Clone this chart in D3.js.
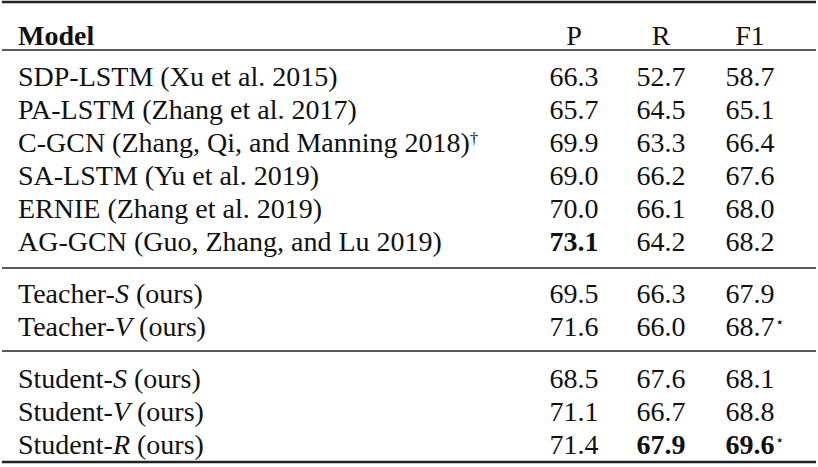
<!DOCTYPE html><html><head><meta charset="utf-8"><script src="https://cdn.jsdelivr.net/npm/d3@7"></script>
<style>body{margin:0;background:#fff}</style></head><body><svg width="818" height="467" font-family="'Liberation Serif', 'DejaVu Serif', serif" font-size="28" fill="#111"></svg>
<script>
const headers=["Model","P","R","F1"];
const models=[["SDP-LSTM (Xu et al. 2015)"],["PA-LSTM (Zhang et al. 2017)"],["C-GCN (Zhang, Qi, and Manning 2018)","†"],["SA-LSTM (Yu et al. 2019)"],["ERNIE (Zhang et al. 2019)"],["AG-GCN (Guo, Zhang, and Lu 2019)"],
["Teacher-","S"," (ours)"],["Teacher-","V"," (ours)"],["Student-","S"," (ours)"],["Student-","V"," (ours)"],["Student-","R"," (ours)"]];
const P=["66.3","65.7","69.9","69.0","70.0","73.1","69.5","71.6","68.5","71.1","71.4"];
const R=["52.7","64.5","63.3","66.2","66.1","64.2","66.3","66.0","67.6","66.7","67.9"];
const F1=["58.7","65.1","66.4","67.6","68.0","68.2","67.9","68.7","68.1","68.8","69.6"];
const bold=[[5,0],[10,1],[10,2]];
const star=[[7,2],[10,2]];
const group=[0,0,0,0,0,0,1,1,2,2,2];
const svg=d3.select("svg");
const y=i=>76+i*33+group[i]*19;
const colX=d3.scaleOrdinal().domain(["P","R","F1"]).range([574,661,750]);
const hy=35;
svg.append("text").attr("x",18).attr("y",hy).attr("dy","0.35em").attr("font-weight","bold").text(headers[0]);
headers.slice(1).forEach(h=>svg.append("text").attr("x",colX(h)).attr("y",hy).attr("dy","0.35em").attr("text-anchor","middle").text(h));
const line=(yy,w)=>svg.append("line").attr("x1",2).attr("x2",816).attr("y1",yy).attr("y2",yy).attr("stroke","#222").attr("stroke-width",w);
line(2,2.5);line(50,1.5);line(y(5)+27,1.5);line(y(7)+25,1.5);line(462,2.5);
models.forEach((m,i)=>{
 const t=svg.append("text").attr("x",18).attr("y",y(i)).attr("dy","0.35em");
 if(m.length===1)t.text(m[0]);
 else if(m[1]==="†"){t.append("tspan").text(m[0]);t.append("tspan").attr("dy","-0.45em").attr("font-size","17px").text("†");}
 else{t.append("tspan").text(m[0]);t.append("tspan").attr("font-style","italic").text(m[1]);t.append("tspan").text(m[2]);}
 [P,R,F1].forEach((arr,j)=>{
  const isB=bold.some(b=>b[0]===i&&b[1]===j);
  const tt=svg.append("text").attr("x",colX(headers[j+1])).attr("y",y(i)).attr("dy","0.35em").attr("text-anchor","middle").attr("font-weight",isB?"bold":null).text(arr[i]);
  if(star.some(s=>s[0]===i&&s[1]===j)){
   const bb=tt.node().getBBox();
   svg.append("text").attr("x",bb.x+bb.width).attr("y",y(i)+1).attr("font-size","15px").text("⋆");
  }
 });
});
</script></body></html>
